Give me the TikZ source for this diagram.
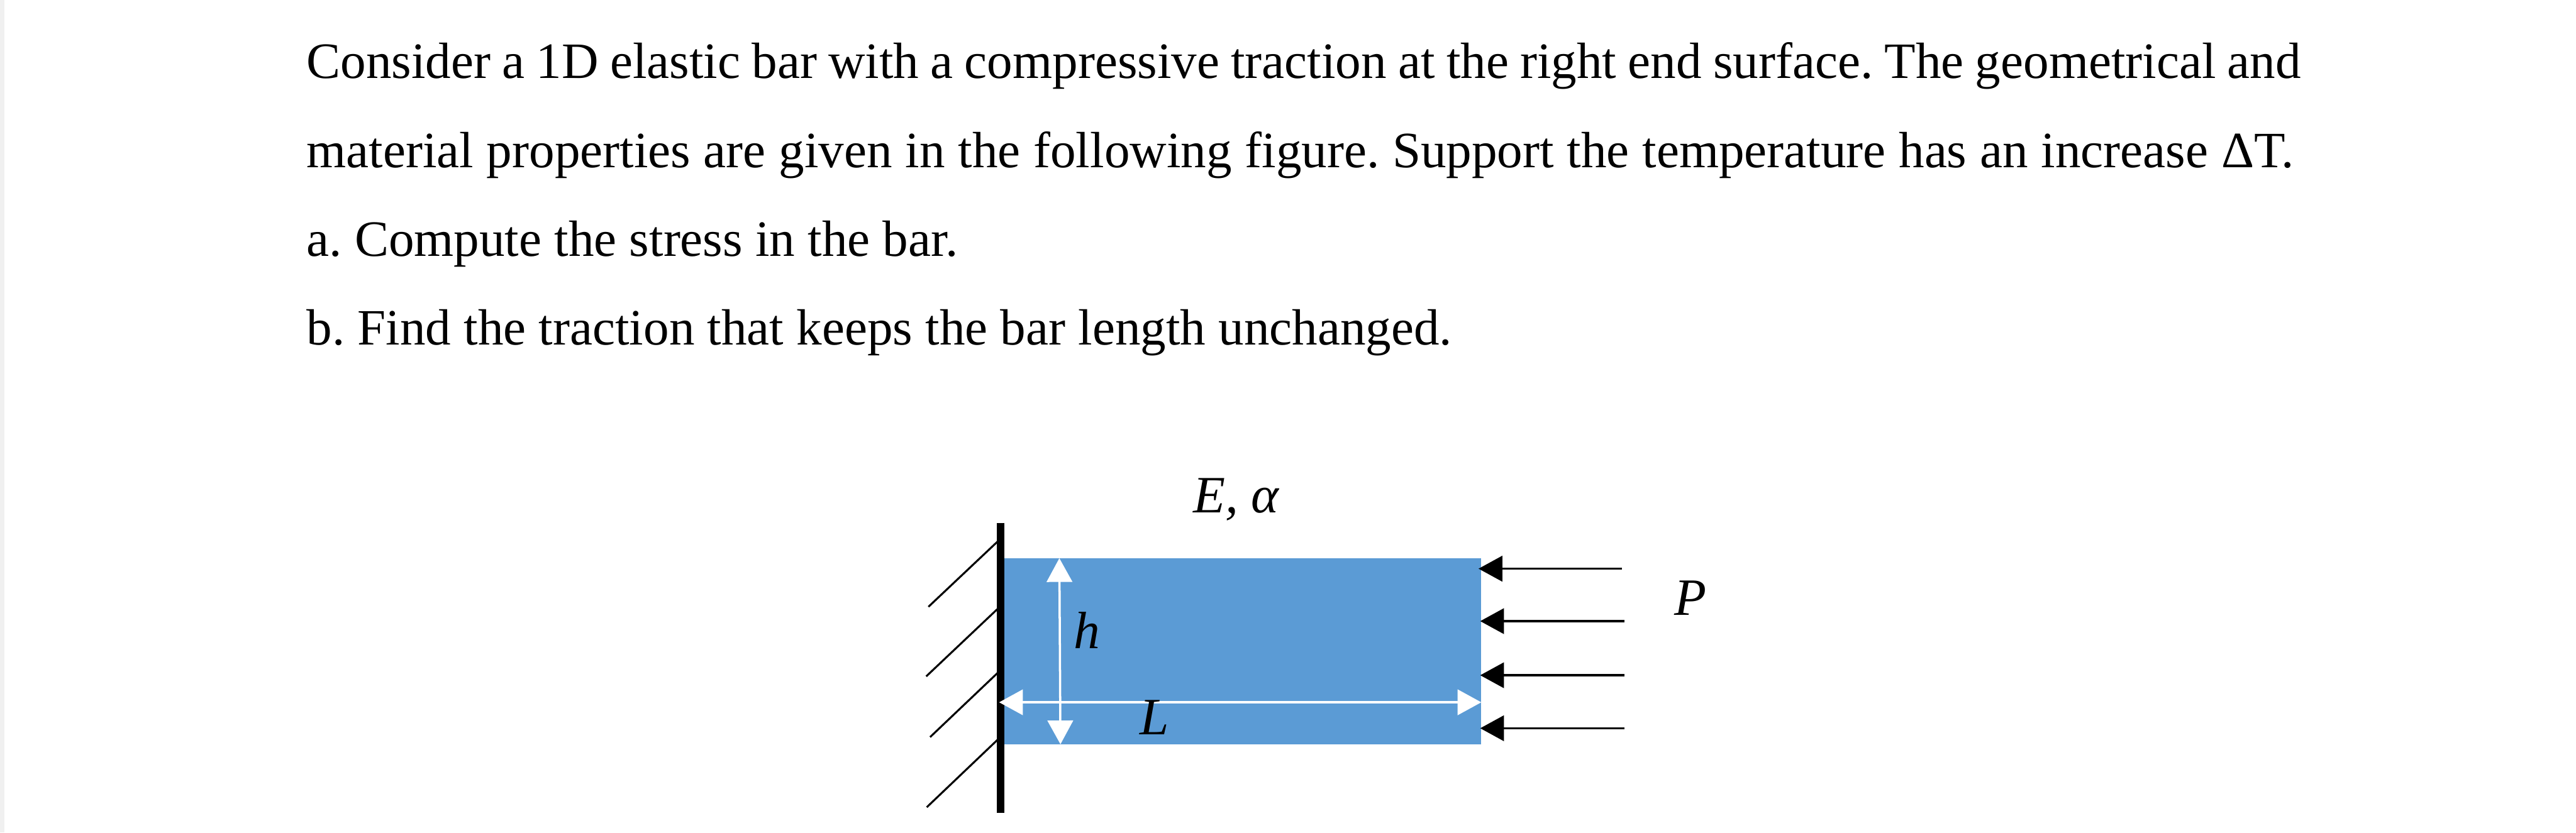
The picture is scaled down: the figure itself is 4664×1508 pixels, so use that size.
\documentclass[tikz,border=0pt]{standalone}
\usepackage{fontspec}
\setmainfont{Liberation Serif}
\usetikzlibrary{arrows.meta}
\definecolor{barblue}{HTML}{5B9BD5}
\definecolor{edgegrey}{HTML}{F0F0F0}
\frenchspacing
\tikzset{
    textline/.style = {anchor = base west, inner sep = 0pt, font = \fontsize{92.3}{95}\selectfont},
    symbol/.style = {inner sep = 0pt, font = \fontsize{95}{95}\selectfont\itshape},
    hatch/.style = {line width = 3.5pt},
    load/.style = {line width = 4pt, {Triangle[length = 43pt, width = 46pt]}-},
    dimension/.style = {white, line width = 4pt, {Triangle[length = 43pt, width = 46pt]}-{Triangle[length = 43pt, width = 46pt]}}
}
\begin{document}
\begin{tikzpicture}[x = 1pt, y = -1pt]%
    \useasboundingbox (0, 0) rectangle (4664, 1508);
    \fill[edgegrey] (0, 0) rectangle (8, 1508);
    % text
    \node[textline] (line1) at (555, 142) {\spaceskip = 20.8pt Consider a 1D elastic bar with a compressive traction at the right end surface. The geometrical and};
    \node[textline] (line2) at (555, 304) {\spaceskip = 23.7pt material properties are given in the following figure. Support the temperature has an increase ΔT.};
    \node[textline] (line3) at (555, 464) {a. Compute the stress in the bar.};
    \node[textline] (line4) at (555, 625) {b. Find the traction that keeps the bar length unchanged.};
    % bar and wall
    \fill[barblue] (1812, 1011) rectangle (2682, 1348);
    \draw[line width = 14pt] (1812, 947) -- (1812, 1472);
    \draw[hatch] (1806, 981) -- (1681, 1099);
    \draw[hatch] (1806, 1103) -- (1677, 1225);
    \draw[hatch] (1806, 1219) -- (1684, 1335);
    \draw[hatch] (1806, 1340) -- (1678, 1462);
    % dimensions
    \coordinate (htop) at (1918, 1011);
    \coordinate (hbot) at (1920, 1348);
    \coordinate (lleft) at (1809, 1272);
    \coordinate (lright) at (2682, 1272);
    \draw[dimension] (htop) -- (hbot);
    \draw[dimension] (lleft) -- (lright);
    % traction
    \coordinate (tip1) at (2677, 1030);
    \coordinate (tail1) at (2937, 1030);
    \coordinate (tip2) at (2680, 1125);
    \coordinate (tail2) at (2941, 1125);
    \coordinate (tip3) at (2680, 1223);
    \coordinate (tail3) at (2941, 1223);
    \coordinate (tip4) at (2680, 1319);
    \coordinate (tail4) at (2941, 1319);
    \draw[load] (tip1) -- (tail1);
    \draw[load] (tip2) -- (tail2);
    \draw[load] (tip3) -- (tail3);
    \draw[load] (tip4) -- (tail4);
    % labels
    \node[symbol] (props) at (2238, 905) {E, α};
    \node[symbol] (height) at (1968, 1142) {h};
    \node[symbol] (length) at (2090, 1299) {L};
    \node[symbol] (force) at (3061, 1083) {P};
\end{tikzpicture}
\end{document}
